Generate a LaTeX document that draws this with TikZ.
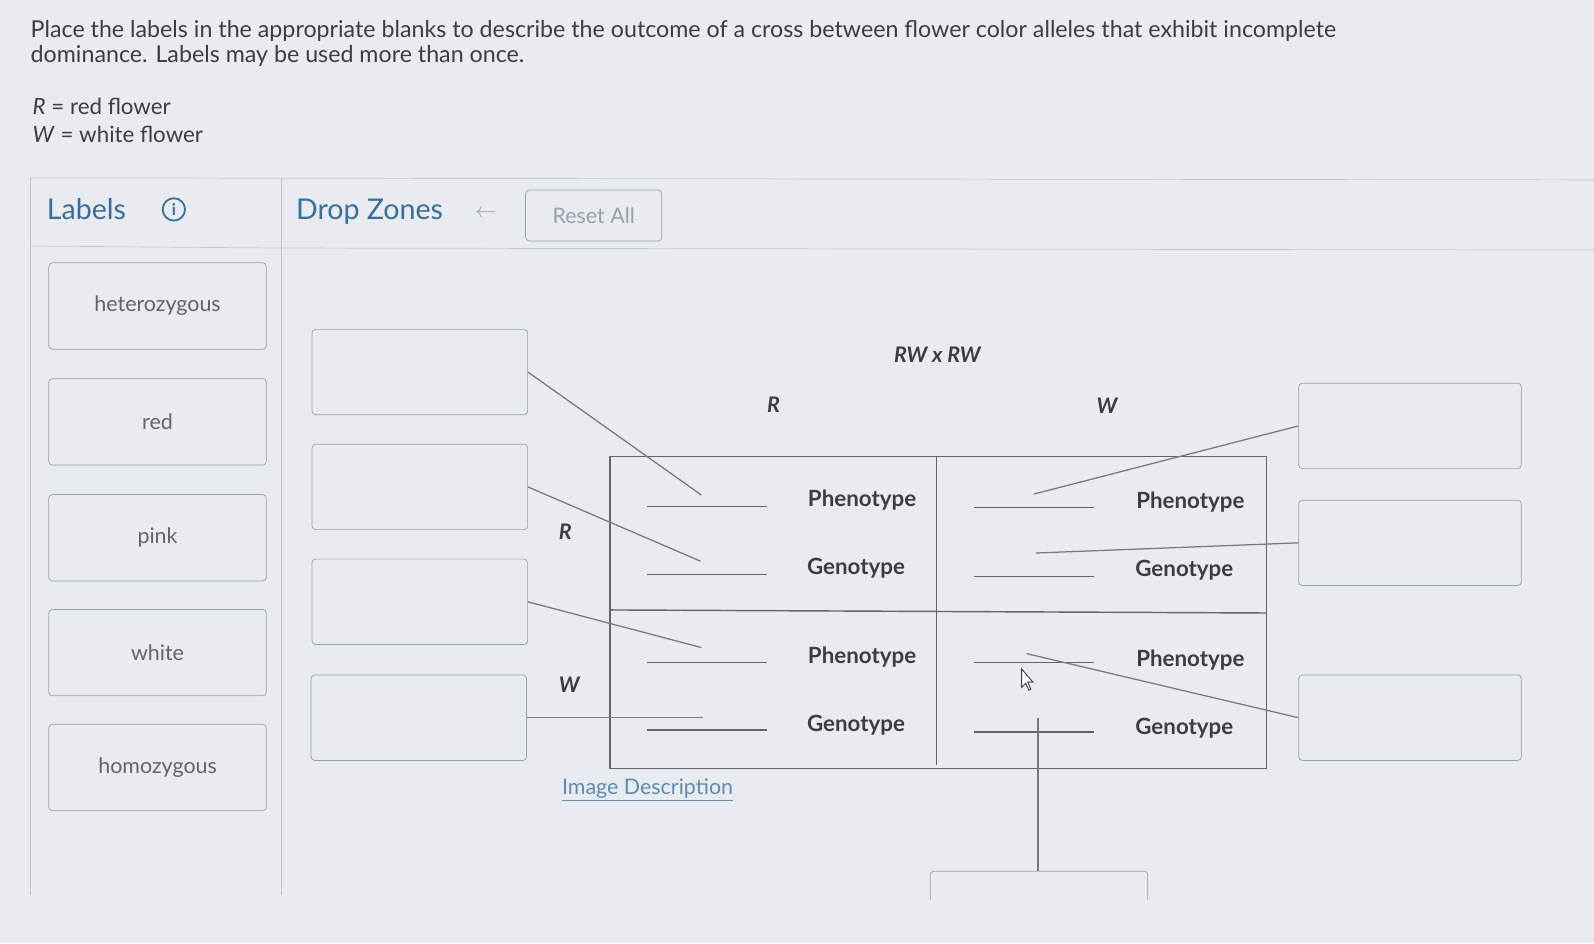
\documentclass[tikz,border=0pt]{standalone}
\usepackage{fontspec}
\setmainfont{Lato}
\usetikzlibrary{positioning}
\definecolor{bg}{HTML}{E8ECF1}
\definecolor{boxline}{HTML}{9AA0A8}
\definecolor{titleblue}{HTML}{3A6E9A}
\definecolor{txt}{HTML}{3A3D42}
\newlength{\px}\setlength{\px}{0.02cm}
\tikzset{
  lbl/.style={draw=boxline, fill=bg, rounded corners=2pt, minimum width=214\px, minimum height=85\px, text=txt!80, font=\fontsize{12}{14}\selectfont},
  zone/.style={draw=boxline, fill=bg, rounded corners=2pt, minimum width=212\px, minimum height=84\px},
  word/.style={text=txt, font=\bfseries\fontsize{12.5}{14}\selectfont},
  allele/.style={text=txt, font=\bfseries\itshape\fontsize{12}{14}\selectfont},
  leader/.style={draw=txt!70, line width=0.7pt},
  blank/.style={draw=txt!80, line width=0.7pt}
}
\begin{document}
\begin{tikzpicture}[x=0.02cm, y=-0.02cm]
\useasboundingbox (0,0) rectangle (1568,928);
\fill[bg] (0,0) rectangle (1568,928);
% question text
\node[anchor=west, text=txt, font=\fontsize{13}{15}\selectfont] (q1) at (24,30) {Place the labels in the appropriate blanks to describe the outcome of a cross between flower color alleles that exhibit incomplete};
\node[anchor=west, text=txt, font=\fontsize{13}{15}\selectfont] (q2) at (24,55) {dominance. Labels may be used more than once.};
\node[anchor=west, text=txt, font=\fontsize{12.5}{14}\selectfont] (k1) at (26,105) {\textit{R} = red flower};
\node[anchor=west, text=txt, font=\fontsize{12.5}{14}\selectfont] (k2) at (26,132) {\textit{W} = white flower};
% panel
\draw[boxline!60] (30,880) -- (30,175) -- (1568,177);
\draw[boxline!60] (277,175) -- (277,880);
\draw[boxline!60] (30,242) -- (277,244) -- (1568,246);
\node[anchor=west, text=titleblue, font=\fontsize{16}{18}\selectfont] (labels) at (40,206) {Labels};
\node[circle, draw=titleblue, line width=1pt, inner sep=0pt, minimum size=22\px, text=titleblue, font=\bfseries\fontsize{9}{10}\selectfont] (info) at (171,206) {i};
\node[anchor=west, text=titleblue, font=\fontsize{16}{18}\selectfont] (drop) at (285,208) {Drop Zones};
\node[text=boxline, font=\fontsize{12}{14}\selectfont] (undo) at (478,210) {$\leftarrow$};
\node[draw=boxline, rounded corners=2pt, minimum width=134\px, minimum height=50\px, text=boxline, font=\fontsize{12}{14}\selectfont] (reset) at (584,212) {Reset All};
% label tiles
\node[lbl] (het) at (155,301) {heterozygous};
\node[lbl] (red) at (155,415) {red};
\node[lbl] (pink) at (155,529) {pink};
\node[lbl] (white) at (155,642) {white};
\node[lbl] (hom) at (155,755) {homozygous};
% drop zones
\node[zone] (z1) at (413,366) {};
\node[zone] (z2) at (413,479) {};
\node[zone] (z3) at (413,592) {};
\node[zone] (z4) at (412,706) {};
\node[zone, minimum width=219\px] (z5) at (1387,419) {};
\node[zone, minimum width=219\px] (z6) at (1387,534) {};
\node[zone, minimum width=219\px] (z7) at (1387,706) {};
\draw[boxline, rounded corners=2pt] (915,885) -- (915,857) -- (1129,857) -- (1129,885);
\coordinate (z8) at (1021,857);
% punnett square
\draw[txt!80, line width=0.8pt] (600,449) rectangle (1246,756);
\draw[txt!80, line width=0.8pt] (921,449) -- (921,753);
\draw[txt!80, line width=0.8pt] (600,600) -- (1246,603);
\node[allele] (cross) at (922,349) {RW x RW};
\node[allele] (cr) at (761,398) {R};
\node[allele] (cw) at (1089,399) {W};
\node[allele] (rr) at (556,523) {R};
\node[allele] (rw) at (560,674) {W};
\foreach \y in {498,565,652,718} \draw[blank] (636,\y) -- (754,\y);
\foreach \y in {499,567,652,720} \draw[blank] (958,\y) -- (1076,\y);
\node[word] (p1) at (848,492) {Phenotype};
\node[word] (g1) at (842,559) {Genotype};
\node[word] (p2) at (848,646) {Phenotype};
\node[word] (g2) at (842,713) {Genotype};
\node[word] (p3) at (1171,494) {Phenotype};
\node[word] (g3) at (1165,561) {Genotype};
\node[word] (p4) at (1171,649) {Phenotype};
\node[word] (g4) at (1165,716) {Genotype};
% leader ends
\coordinate (e1) at (690,487);
\coordinate (e2) at (689,552);
\coordinate (e3) at (690,637);
\coordinate (e4) at (692,706);
\coordinate (e5) at (1017,486);
\coordinate (e6) at (1019,544);
\coordinate (e7) at (1010,643);
\coordinate (e8) at (1021,706);
\draw[leader] (z1.east) -- (e1);
\draw[leader] (z2.east) -- (e2);
\draw[leader] (z3.east) -- (e3);
\draw[leader] (z4.east) -- (e4);
\draw[leader] (z5.west) -- (e5);
\draw[leader] (z6.west) -- (e6);
\draw[leader] (z7.west) -- (e7);
\draw[leader] (z8) -- (e8);
% cursor
\draw[txt, fill=white, line width=0.5pt] (1005,658) -- (1005,676) -- (1009,672) -- (1012,679) -- (1014,678) -- (1011,671) -- (1016,671) -- cycle;
\node[text=titleblue!80, font=\fontsize{12}{14}\selectfont] (desc) at (637,777) {\underline{Image Description}};
\end{tikzpicture}
\end{document}
